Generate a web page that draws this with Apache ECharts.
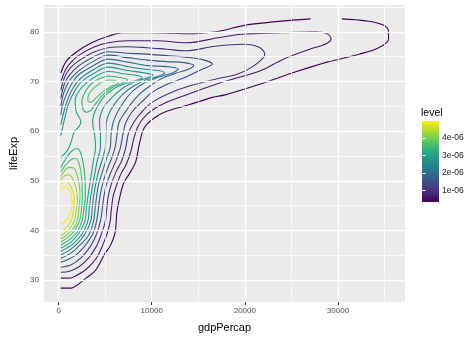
<!DOCTYPE html>
<html><head><meta charset="utf-8">
<script src="https://cdn.jsdelivr.net/npm/echarts@6/dist/echarts.min.js"></script>
<style>html,body{margin:0;padding:0;background:#fff}#c{width:474px;height:338px}</style>
</head><body><div id="c"></div>
<script>
const FONT = 'Liberation Sans, Arial, sans-serif';
const xTicks = [0, 10000, 20000, 30000];
const xMinor = [5000, 15000, 25000, 35000];
const yTicks = [30, 40, 50, 60, 70, 80];
const yMinor = [35, 45, 55, 65, 75, 85];
const legendTicks = [1e-6, 2e-6, 3e-6, 4e-6];
const levels = [3.31e-7, 6.61e-7, 9.92e-7, 1.32e-6, 1.65e-6, 1.98e-6, 2.31e-6, 2.65e-6, 2.98e-6, 3.31e-6, 3.64e-6, 3.97e-6, 4.30e-6, 4.63e-6, 4.96e-6];

// contour paths [gdpPercap, lifeExp]
const c1a = [[241,71.7],[836,74.1],[1881,75.9],[3553,77.8],[5330,79.1],[6897,79.8],[9510,79.8],[12331,79.7],[13690,79.6],[15780,79.8],[17243,80.1],[19960,81.3],[23617,82.1],[27066,82.6]];
const c1b = [[30410,82.6],[33020,82.2],[34800,81.4],[35430,80.1],[35430,78.5],[34380,76.8],[32290,75.5],[28840,73.9],[25390,71.9],[21840,69.6],[17870,67.3],[16510,66.8],[14000,65.3],[11600,64.0],[10240,62.6],[9200,60.7],[8670,57.4],[8260,53.7],[7520,51.2],[7000,49.6],[6580,46.8],[6270,43.8],[6060,39.5],[5540,36.9],[5020,35.5],[3970,32.0],[2930,30.4],[1990,29.0],[1360,28.4],[241,28.4]];
const c2 = [[241,69.8],[418,70.9],[730,72.3],[1250,73.7],[2190,75.3],[3760,76.9],[5330,77.8],[7420,78.2],[10550,78.2],[13690,77.8],[17140,78.8],[19650,79.5],[24140,79.8],[27590,80.0],[28840,79.6],[29260,78.6],[28630,77.5],[26960,76.5],[24140,74.5],[21740,72.2],[18910,70.6],[17140,69.6],[13690,67.3],[11600,65.8],[10030,64.2],[9090,62.6],[8460,60.7],[8050,58.3],[7730,55.7],[7210,53.1],[6690,51.4],[6170,48.8],[5850,46.8],[5640,43.8],[5540,41.9],[5230,39.5],[4700,36.9],[4080,34.5],[3030,32.3],[1780,30.8],[1150,30.4],[241,30.4]];
const c3 = [[241,68.2],[418,69.6],[730,71.2],[1250,72.7],[2190,74.2],[3760,75.9],[5330,76.8],[7420,77.0],[9510,76.8],[11600,76.5],[13690,76.2],[16820,77.1],[19960,77.5],[21530,76.9],[22150,75.5],[21000,73.2],[19230,71.5],[17140,70.6],[13690,68.9],[11600,67.4],[10030,65.8],[8990,64.0],[8150,62.0],[7520,59.7],[7210,56.7],[6790,54.1],[6170,51.8],[5640,49.2],[5330,46.8],[5170,44.4],[5020,41.9],[4600,39.3],[4080,36.9],[3240,34.5],[2190,32.7],[1150,31.8],[241,31.6]];
const c4 = [[241,66.6],[418,68.2],[730,70.0],[1250,71.5],[2190,73.2],[3760,75.0],[5330,76.0],[7420,75.7],[9510,75.5],[11600,75.2],[13690,74.9],[15470,74.4],[16510,73.5],[15470,72.5],[13690,70.9],[11600,69.4],[10030,67.8],[8990,66.0],[7940,64.0],[7210,61.7],[6900,59.3],[6640,56.7],[6170,54.1],[5640,51.8],[5120,49.2],[4860,46.8],[4700,44.4],[4490,41.9],[4080,39.3],[3450,36.9],[2400,34.5],[1360,33.1],[241,32.6]];
const c5 = [[241,65.0],[418,66.8],[730,68.6],[1250,70.4],[2190,72.2],[3760,74.1],[5330,75.3],[7420,74.8],[9510,74.3],[11600,74.0],[13480,73.8],[14530,73.2],[14000,72.5],[12640,71.7],[11080,70.6],[9720,69.0],[8670,67.4],[7730,65.4],[7000,63.4],[6480,61.7],[6270,59.3],[6060,56.7],[5640,54.3],[5120,51.8],[4700,49.2],[4440,46.8],[4280,44.4],[4080,41.9],[3660,39.3],[2820,36.9],[1880,35.1],[940,34.1],[241,33.6]];
const c6 = [[241,63.2],[418,65.2],[840,67.4],[1360,69.4],[2190,71.4],[3760,73.2],[5330,74.5],[7420,73.9],[9510,73.2],[11600,73.0],[12850,72.5],[12230,71.7],[10760,70.9],[9300,69.8],[8050,68.2],[7110,66.2],[6370,64.0],[5850,61.7],[5640,59.3],[5540,56.7],[5120,54.3],[4700,51.8],[4280,49.2],[4080,46.8],[3920,44.4],[3760,41.9],[3240,39.1],[2190,36.9],[1360,35.5],[241,34.4]];
const c7 = [[241,61.3],[520,63.6],[940,66.2],[1460,68.4],[2300,70.5],[3760,72.4],[5330,73.7],[7420,73.0],[9510,72.4],[10760,72.2],[11390,71.7],[10760,71.1],[9510,70.4],[8150,69.2],[7000,67.6],[6060,65.6],[5430,63.6],[5120,61.7],[5070,59.3],[5020,56.7],[4700,54.3],[4280,51.8],[3970,49.2],[3760,46.8],[3610,44.4],[3450,41.9],[2820,39.3],[1990,37.3],[1050,35.9],[241,35.1]];
const c8 = [[241,59.1],[630,62.4],[1050,65.4],[1570,67.6],[2400,69.8],[3760,71.6],[5330,72.9],[7420,72.2],[9300,71.7],[10140,71.3],[9510,70.7],[8260,70.0],[7000,68.8],[5850,67.0],[4910,65.0],[4490,63.2],[4390,61.7],[4490,59.3],[4490,56.7],[4180,54.3],[3920,51.8],[3660,49.2],[3450,46.8],[3290,44.4],[3140,41.9],[2510,39.3],[1570,37.3],[730,36.3],[241,35.8]];
const c9 = [[241,54.7],[940,56.1],[1360,57.9],[1670,59.9],[2090,60.7],[2400,61.8],[1880,64.0],[1780,66.2],[2090,67.8],[2820,69.4],[3970,71.0],[5330,72.0],[7210,71.5],[8460,71.2],[8990,70.8],[8460,70.3],[7210,69.6],[5960,68.6],[4910,67.0],[4180,65.0],[3760,63.2],[3660,61.7],[3870,59.3],[3970,56.7],[3760,54.3],[3550,51.8],[3340,49.2],[3140,46.8],[2980,44.4],[2820,41.9],[2190,39.5],[1360,37.7],[630,36.8],[241,36.5]];
const c10a = [[241,52.7],[730,54.3],[1360,55.9],[1990,56.5],[2400,55.5],[2660,53.3],[2820,50.8],[2870,46.8],[2720,44.4],[2510,41.9],[1990,39.7],[1150,38.1],[241,37.1]];
const c10b = [[5330,71.1],[6580,70.8],[7420,70.3],[6900,69.7],[5750,68.8],[4810,67.4],[4080,65.8],[3550,64.4],[3030,63.8],[2610,64.4],[2510,66.0],[2820,67.8],[3450,69.4],[4280,70.5],[5330,71.1]];
const c11a = [[241,51.8],[730,53.1],[1360,54.3],[1880,54.5],[2250,53.1],[2460,50.8],[2560,46.8],[2460,44.4],[2250,41.9],[1670,39.9],[940,38.5],[241,37.7]];
const c11b = [[5330,70.3],[6170,70.1],[6370,69.6],[5640,69.0],[4810,68.0],[4080,66.8],[3450,65.8],[3140,66.2],[3240,67.4],[3870,68.8],[4600,69.8],[5330,70.3]];
const c12 = [[241,50.8],[630,52.0],[1150,52.7],[1670,52.5],[2040,50.8],[2250,48.8],[2300,46.8],[2190,44.4],[1990,41.9],[1460,40.1],[730,38.9],[241,38.3]];
const c13 = [[241,50.0],[630,51.0],[1150,51.2],[1570,50.2],[1880,48.4],[2040,46.2],[1880,43.8],[1670,41.9],[1150,40.3],[520,39.3],[241,39.0]];
const c14 = [[241,49.2],[630,49.8],[1050,49.6],[1410,48.4],[1670,46.8],[1620,44.4],[1360,42.0],[840,40.6],[241,39.9]];
const c15 = [[241,48.2],[630,48.8],[1050,48.4],[1360,47.0],[1460,45.4],[1250,43.4],[840,42.0],[241,41.3]];

const contours = [
  [0, [c1a, c1b]], [1, [c2]], [2, [c3]], [3, [c4]], [4, [c5]], [5, [c6]], [6, [c7]],
  [7, [c8]], [8, [c9]], [9, [c10a, c10b]], [10, [c11a, c11b]], [11, [c12]],
  [12, [c13]], [13, [c14]], [14, [c15]]
];

const viridisStops = ['#440154','#482475','#414487','#355f8d','#2a788e','#21918c','#22a884','#44bf70','#7ad151','#bddf26','#fde725'];
function hex2rgb(h){return [parseInt(h.slice(1,3),16),parseInt(h.slice(3,5),16),parseInt(h.slice(5,7),16)];}
function viridis(t){
  t = Math.max(0, Math.min(1, t));
  const p = t * (viridisStops.length - 1);
  const i = Math.min(Math.floor(p), viridisStops.length - 2);
  const f = p - i;
  const a = hex2rgb(viridisStops[i]), b = hex2rgb(viridisStops[i+1]);
  const c = a.map((v, j) => Math.round(v + (b[j] - v) * f));
  return 'rgb(' + c.join(',') + ')';
}
const lvMin = levels[0], lvMax = levels[levels.length - 1];

const series = [];
function gridSeries(xs, ys, width) {
  return {
    type: 'line', data: [], xAxisIndex: 0, yAxisIndex: 0, z: 1, silent: true, animation: false,
    markLine: {
      silent: true, symbol: ['none', 'none'], label: {show: false}, animation: false,
      lineStyle: {color: '#ffffff', type: 'solid', width: width},
      emphasis: {disabled: true},
      data: xs.map(v => ({xAxis: v})).concat(ys.map(v => ({yAxis: v})))
    }
  };
}
series.push(gridSeries(xMinor, yMinor, 0.7));
series.push(gridSeries(xTicks, yTicks, 1.3));
contours.forEach(([li, paths]) => {
  const col = viridis((levels[li] - lvMin) / (lvMax - lvMin));
  paths.forEach(p => {
    series.push({
      type: 'line', data: p, xAxisIndex: 0, yAxisIndex: 0, showSymbol: false, symbol: 'none',
      smooth: 0.35, silent: true, animation: false, z: 3,
      lineStyle: {color: col, width: 1.1}
    });
  });
});

const grad = new echarts.graphic.LinearGradient(0, 0, 0, 1,
  viridisStops.slice().reverse().map((c, i, arr) => ({offset: i / (arr.length - 1), color: c})));

const legendAxisCommon = {
  type: 'value', gridIndex: 1, min: 0.329e-6, max: 4.958e-6,
  axisLine: {show: false}, splitLine: {show: false},
  axisTick: {show: true, inside: true, length: 3.4, lineStyle: {color: '#ffffff', width: 1}, customValues: legendTicks}
};

const option = {
  backgroundColor: '#ffffff',
  animation: false,
  grid: [
    {left: 34, top: 5, width: 371, height: 302, show: true, backgroundColor: '#ebebeb', borderWidth: 0},
    {left: 422, top: 121, width: 17, height: 81, show: true, backgroundColor: grad, borderWidth: 0}
  ],
  xAxis: [
    {type: 'value', gridIndex: 0, min: -1568, max: 37200,
     axisLine: {show: false}, splitLine: {show: false},
     axisTick: {show: true, length: 3, lineStyle: {color: '#333333', width: 1}, customValues: xTicks},
     axisLabel: {customValues: xTicks, color: '#4d4d4d', fontSize: 8, margin: 5, fontFamily: FONT,
       formatter: v => String(v)},
     name: 'gdpPercap', nameLocation: 'middle', nameGap: 20,
     nameTextStyle: {color: '#000000', fontSize: 11, fontFamily: FONT}},
    {type: 'value', gridIndex: 1, show: false, min: 0, max: 1}
  ],
  yAxis: [
    {type: 'value', gridIndex: 0, min: 25.6, max: 85.4,
     axisLine: {show: false}, splitLine: {show: false},
     axisTick: {show: true, length: 3, lineStyle: {color: '#333333', width: 1}, customValues: yTicks},
     axisLabel: {customValues: yTicks, color: '#4d4d4d', fontSize: 8, margin: 5, fontFamily: FONT,
       formatter: v => String(v)},
     name: 'lifeExp', nameLocation: 'middle', nameGap: 25, nameRotate: 90,
     nameTextStyle: {color: '#000000', fontSize: 11, fontFamily: FONT}},
    Object.assign({}, legendAxisCommon, {position: 'right',
      axisLabel: {customValues: legendTicks, color: '#1a1a1a', fontSize: 8.5, margin: 3, fontFamily: FONT,
        formatter: v => Math.round(v * 1e6) + 'e-06'}}),
    Object.assign({}, legendAxisCommon, {position: 'left', axisLabel: {show: false}})
  ],
  graphic: [
    {type: 'text', left: 421, top: 108, style: {text: 'level', fontSize: 10.5, fill: '#000000', fontFamily: FONT}}
  ],
  series: series
};
const chart = echarts.init(document.getElementById('c'), null, {renderer: 'canvas'});
chart.setOption(option);
</script>
</body></html>
